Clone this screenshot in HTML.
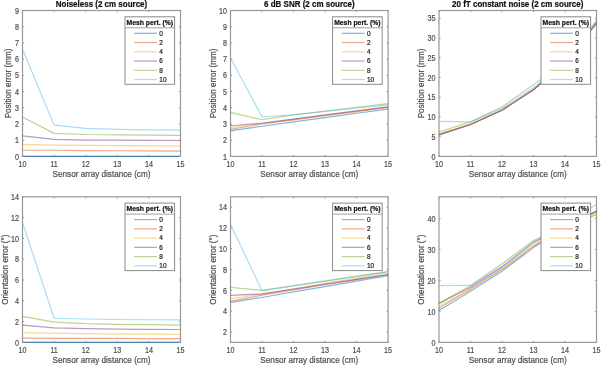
<!DOCTYPE html>
<html><head><meta charset="utf-8"><style>
html,body{margin:0;padding:0;background:#fff;width:602px;height:366px;overflow:hidden}
svg{display:block;will-change:transform}

text{font-family:"Liberation Sans", sans-serif;fill:#505050;stroke:#505050;stroke-width:.2}
.tl{font-size:8px}
.lb{font-size:8px}
.tt{font-size:8px;font-weight:bold;fill:#111;stroke:#111}
.lt{font-size:6.8px;font-weight:bold;fill:#111;stroke:#111}
.le{font-size:6.5px;fill:#222;stroke:#222}
.ln{fill:none;stroke-width:1.2;stroke-linejoin:round;stroke-opacity:.5}
.ax{fill:none;stroke:#989898;stroke-width:1.2}
.tk{stroke:#989898;stroke-width:1;fill:none}
.lg{fill:#fff;stroke:#8a8a8a;stroke-width:1}
.ls{stroke:#8a8a8a;stroke-width:0.8}
.ll{stroke-width:1.2;fill:none;stroke-opacity:.5}
</style></head><body>
<div id="w"><svg width="602" height="366" viewBox="0 0 602 366">
<rect x="22.5" y="10.5" width="158" height="145.9" class="ax"/>
<polyline points="22.5,156.4 54.1,156.4 85.7,156.4 117.3,156.4 148.9,156.4 180.5,156.4" stroke="#0072BD" class="ln"/>
<polyline points="22.5,150.24 54.1,150.24 85.7,150.56 117.3,150.73 148.9,150.89 180.5,151.05" stroke="#D95319" class="ln"/>
<polyline points="22.5,144.4 54.1,145.05 85.7,145.38 117.3,145.7 148.9,145.86 180.5,146.02" stroke="#EDB120" class="ln"/>
<polyline points="22.5,135.81 54.1,139.38 85.7,140.03 117.3,140.19 148.9,140.35 180.5,140.51" stroke="#7E2F8E" class="ln"/>
<polyline points="22.5,117.01 54.1,133.38 85.7,134.51 117.3,134.84 148.9,135.16 180.5,135.33" stroke="#77AC30" class="ln"/>
<polyline points="22.5,49.08 54.1,125.11 85.7,128.35 117.3,129.33 148.9,129.81 180.5,130.14" stroke="#4DBEEE" class="ln"/>
<path d="M22.5 156.4v-1.6M22.5 10.5v1.6" class="tk"/>
<text transform="translate(22.5 167.3) scale(0.9 1.12)" class="tl" text-anchor="middle">10</text>
<path d="M54.1 156.4v-1.6M54.1 10.5v1.6" class="tk"/>
<text transform="translate(54.1 167.3) scale(0.9 1.12)" class="tl" text-anchor="middle">11</text>
<path d="M85.7 156.4v-1.6M85.7 10.5v1.6" class="tk"/>
<text transform="translate(85.7 167.3) scale(0.9 1.12)" class="tl" text-anchor="middle">12</text>
<path d="M117.3 156.4v-1.6M117.3 10.5v1.6" class="tk"/>
<text transform="translate(117.3 167.3) scale(0.9 1.12)" class="tl" text-anchor="middle">13</text>
<path d="M148.9 156.4v-1.6M148.9 10.5v1.6" class="tk"/>
<text transform="translate(148.9 167.3) scale(0.9 1.12)" class="tl" text-anchor="middle">14</text>
<path d="M180.5 156.4v-1.6M180.5 10.5v1.6" class="tk"/>
<text transform="translate(180.5 167.3) scale(0.9 1.12)" class="tl" text-anchor="middle">15</text>
<path d="M22.5 156.4h1.6M180.5 156.4h-1.6" class="tk"/>
<text transform="translate(19.1 159.5) scale(0.9 1.12)" class="tl" text-anchor="end">0</text>
<path d="M22.5 140.19h1.6M180.5 140.19h-1.6" class="tk"/>
<text transform="translate(19.1 143.29) scale(0.9 1.12)" class="tl" text-anchor="end">1</text>
<path d="M22.5 123.98h1.6M180.5 123.98h-1.6" class="tk"/>
<text transform="translate(19.1 127.08) scale(0.9 1.12)" class="tl" text-anchor="end">2</text>
<path d="M22.5 107.77h1.6M180.5 107.77h-1.6" class="tk"/>
<text transform="translate(19.1 110.87) scale(0.9 1.12)" class="tl" text-anchor="end">3</text>
<path d="M22.5 91.56h1.6M180.5 91.56h-1.6" class="tk"/>
<text transform="translate(19.1 94.66) scale(0.9 1.12)" class="tl" text-anchor="end">4</text>
<path d="M22.5 75.34h1.6M180.5 75.34h-1.6" class="tk"/>
<text transform="translate(19.1 78.44) scale(0.9 1.12)" class="tl" text-anchor="end">5</text>
<path d="M22.5 59.13h1.6M180.5 59.13h-1.6" class="tk"/>
<text transform="translate(19.1 62.23) scale(0.9 1.12)" class="tl" text-anchor="end">6</text>
<path d="M22.5 42.92h1.6M180.5 42.92h-1.6" class="tk"/>
<text transform="translate(19.1 46.02) scale(0.9 1.12)" class="tl" text-anchor="end">7</text>
<path d="M22.5 26.71h1.6M180.5 26.71h-1.6" class="tk"/>
<text transform="translate(19.1 29.81) scale(0.9 1.12)" class="tl" text-anchor="end">8</text>
<path d="M22.5 10.5h1.6M180.5 10.5h-1.6" class="tk"/>
<text transform="translate(19.1 13.6) scale(0.9 1.12)" class="tl" text-anchor="end">9</text>
<text transform="translate(101.5 177.2) scale(1.02 1.15)" class="lb" text-anchor="middle">Sensor array distance (cm)</text>
<text transform="translate(11.2 83.45) rotate(-90) scale(1.02 1.15)" class="lb" text-anchor="middle">Position error (mm)</text>
<text transform="translate(101.5 7.1) scale(1 1.1)" class="tt" text-anchor="middle">Noiseless (2 cm source)</text>
<rect x="125" y="16.8" width="49.6" height="67.5" class="lg"/>
<text transform="translate(149.8 25.1)" class="lt" text-anchor="middle">Mesh pert. (%)</text>
<path d="M125 27.8h49.6" class="ls"/>
<path d="M134.2 33.3h22.8" stroke="#0072BD" class="ll"/>
<text transform="translate(159.3 35.6) scale(1 1.06)" class="le">0</text>
<path d="M134.2 42.55h22.8" stroke="#D95319" class="ll"/>
<text transform="translate(159.3 44.85) scale(1 1.06)" class="le">2</text>
<path d="M134.2 51.8h22.8" stroke="#EDB120" class="ll"/>
<text transform="translate(159.3 54.1) scale(1 1.06)" class="le">4</text>
<path d="M134.2 61.05h22.8" stroke="#7E2F8E" class="ll"/>
<text transform="translate(159.3 63.35) scale(1 1.06)" class="le">6</text>
<path d="M134.2 70.3h22.8" stroke="#77AC30" class="ll"/>
<text transform="translate(159.3 72.6) scale(1 1.06)" class="le">8</text>
<path d="M134.2 79.55h22.8" stroke="#4DBEEE" class="ll"/>
<text transform="translate(159.3 81.85) scale(1 1.06)" class="le">10</text>
<rect x="230.5" y="10.5" width="157.6" height="145.9" class="ax"/>
<polyline points="230.5,130.79 262.02,126.25 293.54,121.87 325.06,117.66 356.58,113.28 388.1,109.06" stroke="#0072BD" class="ln"/>
<polyline points="230.5,129.33 262.02,123.98 293.54,119.93 325.06,115.71 356.58,111.66 388.1,107.44" stroke="#D95319" class="ln"/>
<polyline points="230.5,127.54 262.02,123.49 293.54,119.44 325.06,115.22 356.58,111.17 388.1,107.12" stroke="#EDB120" class="ln"/>
<polyline points="230.5,125.76 262.02,123.17 293.54,119.11 325.06,114.9 356.58,110.85 388.1,106.79" stroke="#7E2F8E" class="ln"/>
<polyline points="230.5,112.31 262.02,119.76 293.54,114.9 325.06,111.17 356.58,107.44 388.1,103.55" stroke="#77AC30" class="ln"/>
<polyline points="230.5,58 262.02,116.84 293.54,114.74 325.06,111.5 356.58,108.25 388.1,104.85" stroke="#4DBEEE" class="ln"/>
<path d="M230.5 156.4v-1.6M230.5 10.5v1.6" class="tk"/>
<text transform="translate(230.5 167.3) scale(0.9 1.12)" class="tl" text-anchor="middle">10</text>
<path d="M262.02 156.4v-1.6M262.02 10.5v1.6" class="tk"/>
<text transform="translate(262.02 167.3) scale(0.9 1.12)" class="tl" text-anchor="middle">11</text>
<path d="M293.54 156.4v-1.6M293.54 10.5v1.6" class="tk"/>
<text transform="translate(293.54 167.3) scale(0.9 1.12)" class="tl" text-anchor="middle">12</text>
<path d="M325.06 156.4v-1.6M325.06 10.5v1.6" class="tk"/>
<text transform="translate(325.06 167.3) scale(0.9 1.12)" class="tl" text-anchor="middle">13</text>
<path d="M356.58 156.4v-1.6M356.58 10.5v1.6" class="tk"/>
<text transform="translate(356.58 167.3) scale(0.9 1.12)" class="tl" text-anchor="middle">14</text>
<path d="M388.1 156.4v-1.6M388.1 10.5v1.6" class="tk"/>
<text transform="translate(388.1 167.3) scale(0.9 1.12)" class="tl" text-anchor="middle">15</text>
<path d="M230.5 156.4h1.6M388.1 156.4h-1.6" class="tk"/>
<text transform="translate(227.1 159.5) scale(0.9 1.12)" class="tl" text-anchor="end">1</text>
<path d="M230.5 140.19h1.6M388.1 140.19h-1.6" class="tk"/>
<text transform="translate(227.1 143.29) scale(0.9 1.12)" class="tl" text-anchor="end">2</text>
<path d="M230.5 123.98h1.6M388.1 123.98h-1.6" class="tk"/>
<text transform="translate(227.1 127.08) scale(0.9 1.12)" class="tl" text-anchor="end">3</text>
<path d="M230.5 107.77h1.6M388.1 107.77h-1.6" class="tk"/>
<text transform="translate(227.1 110.87) scale(0.9 1.12)" class="tl" text-anchor="end">4</text>
<path d="M230.5 91.56h1.6M388.1 91.56h-1.6" class="tk"/>
<text transform="translate(227.1 94.66) scale(0.9 1.12)" class="tl" text-anchor="end">5</text>
<path d="M230.5 75.34h1.6M388.1 75.34h-1.6" class="tk"/>
<text transform="translate(227.1 78.44) scale(0.9 1.12)" class="tl" text-anchor="end">6</text>
<path d="M230.5 59.13h1.6M388.1 59.13h-1.6" class="tk"/>
<text transform="translate(227.1 62.23) scale(0.9 1.12)" class="tl" text-anchor="end">7</text>
<path d="M230.5 42.92h1.6M388.1 42.92h-1.6" class="tk"/>
<text transform="translate(227.1 46.02) scale(0.9 1.12)" class="tl" text-anchor="end">8</text>
<path d="M230.5 26.71h1.6M388.1 26.71h-1.6" class="tk"/>
<text transform="translate(227.1 29.81) scale(0.9 1.12)" class="tl" text-anchor="end">9</text>
<path d="M230.5 10.5h1.6M388.1 10.5h-1.6" class="tk"/>
<text transform="translate(227.1 13.6) scale(0.9 1.12)" class="tl" text-anchor="end">10</text>
<text transform="translate(309.3 177.2) scale(1.02 1.15)" class="lb" text-anchor="middle">Sensor array distance (cm)</text>
<text transform="translate(215.7 83.45) rotate(-90) scale(1.02 1.15)" class="lb" text-anchor="middle">Position error (mm)</text>
<text transform="translate(309.3 7.1) scale(1 1.1)" class="tt" text-anchor="middle">6 dB SNR (2 cm source)</text>
<rect x="332.6" y="16.8" width="49.6" height="67.5" class="lg"/>
<text transform="translate(357.4 25.1)" class="lt" text-anchor="middle">Mesh pert. (%)</text>
<path d="M332.6 27.8h49.6" class="ls"/>
<path d="M341.8 33.3h22.8" stroke="#0072BD" class="ll"/>
<text transform="translate(366.9 35.6) scale(1 1.06)" class="le">0</text>
<path d="M341.8 42.55h22.8" stroke="#D95319" class="ll"/>
<text transform="translate(366.9 44.85) scale(1 1.06)" class="le">2</text>
<path d="M341.8 51.8h22.8" stroke="#EDB120" class="ll"/>
<text transform="translate(366.9 54.1) scale(1 1.06)" class="le">4</text>
<path d="M341.8 61.05h22.8" stroke="#7E2F8E" class="ll"/>
<text transform="translate(366.9 63.35) scale(1 1.06)" class="le">6</text>
<path d="M341.8 70.3h22.8" stroke="#77AC30" class="ll"/>
<text transform="translate(366.9 72.6) scale(1 1.06)" class="le">8</text>
<path d="M341.8 79.55h22.8" stroke="#4DBEEE" class="ll"/>
<text transform="translate(366.9 81.85) scale(1 1.06)" class="le">10</text>
<rect x="439" y="10.5" width="157.5" height="145.9" class="ax"/>
<polyline points="439,135.3 470.5,124.46 502,110.26 533.5,89.76 565,62.55 596.5,23.12" stroke="#0072BD" class="ln"/>
<polyline points="439,134.71 470.5,124.46 502,110.26 533.5,89.76 565,62.55 596.5,23.51" stroke="#D95319" class="ln"/>
<polyline points="439,133.92 470.5,124.07 502,109.87 533.5,89.36 565,62.16 596.5,22.72" stroke="#EDB120" class="ln"/>
<polyline points="439,134.32 470.5,124.46 502,110.26 533.5,89.76 565,62.55 596.5,22.72" stroke="#7E2F8E" class="ln"/>
<polyline points="439,131.95 470.5,121.9 502,107.11 533.5,84.63 565,62.55 596.5,21.94" stroke="#77AC30" class="ln"/>
<polyline points="439,121.31 470.5,121.9 502,108.69 533.5,87.79 565,61.76 596.5,20.36" stroke="#4DBEEE" class="ln"/>
<path d="M439 156.4v-1.6M439 10.5v1.6" class="tk"/>
<text transform="translate(439 167.3) scale(0.9 1.12)" class="tl" text-anchor="middle">10</text>
<path d="M470.5 156.4v-1.6M470.5 10.5v1.6" class="tk"/>
<text transform="translate(470.5 167.3) scale(0.9 1.12)" class="tl" text-anchor="middle">11</text>
<path d="M502 156.4v-1.6M502 10.5v1.6" class="tk"/>
<text transform="translate(502 167.3) scale(0.9 1.12)" class="tl" text-anchor="middle">12</text>
<path d="M533.5 156.4v-1.6M533.5 10.5v1.6" class="tk"/>
<text transform="translate(533.5 167.3) scale(0.9 1.12)" class="tl" text-anchor="middle">13</text>
<path d="M565 156.4v-1.6M565 10.5v1.6" class="tk"/>
<text transform="translate(565 167.3) scale(0.9 1.12)" class="tl" text-anchor="middle">14</text>
<path d="M596.5 156.4v-1.6M596.5 10.5v1.6" class="tk"/>
<text transform="translate(596.5 167.3) scale(0.9 1.12)" class="tl" text-anchor="middle">15</text>
<path d="M439 156.4h1.6M596.5 156.4h-1.6" class="tk"/>
<text transform="translate(435.6 159.5) scale(0.9 1.12)" class="tl" text-anchor="end">0</text>
<path d="M439 136.68h1.6M596.5 136.68h-1.6" class="tk"/>
<text transform="translate(435.6 139.78) scale(0.9 1.12)" class="tl" text-anchor="end">5</text>
<path d="M439 116.97h1.6M596.5 116.97h-1.6" class="tk"/>
<text transform="translate(435.6 120.07) scale(0.9 1.12)" class="tl" text-anchor="end">10</text>
<path d="M439 97.25h1.6M596.5 97.25h-1.6" class="tk"/>
<text transform="translate(435.6 100.35) scale(0.9 1.12)" class="tl" text-anchor="end">15</text>
<path d="M439 77.54h1.6M596.5 77.54h-1.6" class="tk"/>
<text transform="translate(435.6 80.64) scale(0.9 1.12)" class="tl" text-anchor="end">20</text>
<path d="M439 57.82h1.6M596.5 57.82h-1.6" class="tk"/>
<text transform="translate(435.6 60.92) scale(0.9 1.12)" class="tl" text-anchor="end">25</text>
<path d="M439 38.1h1.6M596.5 38.1h-1.6" class="tk"/>
<text transform="translate(435.6 41.2) scale(0.9 1.12)" class="tl" text-anchor="end">30</text>
<path d="M439 18.39h1.6M596.5 18.39h-1.6" class="tk"/>
<text transform="translate(435.6 21.49) scale(0.9 1.12)" class="tl" text-anchor="end">35</text>
<text transform="translate(517.75 177.2) scale(1.02 1.15)" class="lb" text-anchor="middle">Sensor array distance (cm)</text>
<text transform="translate(424.2 83.45) rotate(-90) scale(1.02 1.15)" class="lb" text-anchor="middle">Position error (mm)</text>
<text transform="translate(517.75 7.1) scale(1 1.1)" class="tt" text-anchor="middle">20 fT constant noise (2 cm source)</text>
<rect x="541" y="16.8" width="49.6" height="67.5" class="lg"/>
<text transform="translate(565.8 25.1)" class="lt" text-anchor="middle">Mesh pert. (%)</text>
<path d="M541 27.8h49.6" class="ls"/>
<path d="M550.2 33.3h22.8" stroke="#0072BD" class="ll"/>
<text transform="translate(575.3 35.6) scale(1 1.06)" class="le">0</text>
<path d="M550.2 42.55h22.8" stroke="#D95319" class="ll"/>
<text transform="translate(575.3 44.85) scale(1 1.06)" class="le">2</text>
<path d="M550.2 51.8h22.8" stroke="#EDB120" class="ll"/>
<text transform="translate(575.3 54.1) scale(1 1.06)" class="le">4</text>
<path d="M550.2 61.05h22.8" stroke="#7E2F8E" class="ll"/>
<text transform="translate(575.3 63.35) scale(1 1.06)" class="le">6</text>
<path d="M550.2 70.3h22.8" stroke="#77AC30" class="ll"/>
<text transform="translate(575.3 72.6) scale(1 1.06)" class="le">8</text>
<path d="M550.2 79.55h22.8" stroke="#4DBEEE" class="ll"/>
<text transform="translate(575.3 81.85) scale(1 1.06)" class="le">10</text>
<rect x="22.5" y="196.8" width="158" height="145.6" class="ax"/>
<polyline points="22.5,342.4 54.1,342.4 85.7,342.4 117.3,342.4 148.9,342.4 180.5,342.4" stroke="#0072BD" class="ln"/>
<polyline points="22.5,338.14 54.1,338.34 85.7,338.45 117.3,338.45 148.9,338.55 180.5,338.55" stroke="#D95319" class="ln"/>
<polyline points="22.5,332.73 54.1,333.14 85.7,333.66 117.3,334.08 148.9,334.18 180.5,334.29" stroke="#EDB120" class="ln"/>
<polyline points="22.5,325.03 54.1,327.94 85.7,328.67 117.3,329.09 148.9,329.4 180.5,329.5" stroke="#7E2F8E" class="ln"/>
<polyline points="22.5,316.3 54.1,322.12 85.7,323.58 117.3,324.3 148.9,324.72 180.5,325.03" stroke="#77AC30" class="ln"/>
<polyline points="22.5,222.8 54.1,318.27 85.7,319 117.3,319.52 148.9,319.73 180.5,319.94" stroke="#4DBEEE" class="ln"/>
<path d="M22.5 342.4v-1.6M22.5 196.8v1.6" class="tk"/>
<text transform="translate(22.5 353.3) scale(0.9 1.12)" class="tl" text-anchor="middle">10</text>
<path d="M54.1 342.4v-1.6M54.1 196.8v1.6" class="tk"/>
<text transform="translate(54.1 353.3) scale(0.9 1.12)" class="tl" text-anchor="middle">11</text>
<path d="M85.7 342.4v-1.6M85.7 196.8v1.6" class="tk"/>
<text transform="translate(85.7 353.3) scale(0.9 1.12)" class="tl" text-anchor="middle">12</text>
<path d="M117.3 342.4v-1.6M117.3 196.8v1.6" class="tk"/>
<text transform="translate(117.3 353.3) scale(0.9 1.12)" class="tl" text-anchor="middle">13</text>
<path d="M148.9 342.4v-1.6M148.9 196.8v1.6" class="tk"/>
<text transform="translate(148.9 353.3) scale(0.9 1.12)" class="tl" text-anchor="middle">14</text>
<path d="M180.5 342.4v-1.6M180.5 196.8v1.6" class="tk"/>
<text transform="translate(180.5 353.3) scale(0.9 1.12)" class="tl" text-anchor="middle">15</text>
<path d="M22.5 342.4h1.6M180.5 342.4h-1.6" class="tk"/>
<text transform="translate(19.1 345.5) scale(0.9 1.12)" class="tl" text-anchor="end">0</text>
<path d="M22.5 321.6h1.6M180.5 321.6h-1.6" class="tk"/>
<text transform="translate(19.1 324.7) scale(0.9 1.12)" class="tl" text-anchor="end">2</text>
<path d="M22.5 300.8h1.6M180.5 300.8h-1.6" class="tk"/>
<text transform="translate(19.1 303.9) scale(0.9 1.12)" class="tl" text-anchor="end">4</text>
<path d="M22.5 280h1.6M180.5 280h-1.6" class="tk"/>
<text transform="translate(19.1 283.1) scale(0.9 1.12)" class="tl" text-anchor="end">6</text>
<path d="M22.5 259.2h1.6M180.5 259.2h-1.6" class="tk"/>
<text transform="translate(19.1 262.3) scale(0.9 1.12)" class="tl" text-anchor="end">8</text>
<path d="M22.5 238.4h1.6M180.5 238.4h-1.6" class="tk"/>
<text transform="translate(19.1 241.5) scale(0.9 1.12)" class="tl" text-anchor="end">10</text>
<path d="M22.5 217.6h1.6M180.5 217.6h-1.6" class="tk"/>
<text transform="translate(19.1 220.7) scale(0.9 1.12)" class="tl" text-anchor="end">12</text>
<path d="M22.5 196.8h1.6M180.5 196.8h-1.6" class="tk"/>
<text transform="translate(19.1 199.9) scale(0.9 1.12)" class="tl" text-anchor="end">14</text>
<text transform="translate(101.5 363.2) scale(1.02 1.15)" class="lb" text-anchor="middle">Sensor array distance (cm)</text>
<text transform="translate(7.7 269.6) rotate(-90) scale(1.02 1.15)" class="lb" text-anchor="middle">Orientation error (°)</text>
<rect x="125" y="203.1" width="49.6" height="67.5" class="lg"/>
<text transform="translate(149.8 211.4)" class="lt" text-anchor="middle">Mesh pert. (%)</text>
<path d="M125 214.1h49.6" class="ls"/>
<path d="M134.2 219.6h22.8" stroke="#0072BD" class="ll"/>
<text transform="translate(159.3 221.9) scale(1 1.06)" class="le">0</text>
<path d="M134.2 228.85h22.8" stroke="#D95319" class="ll"/>
<text transform="translate(159.3 231.15) scale(1 1.06)" class="le">2</text>
<path d="M134.2 238.1h22.8" stroke="#EDB120" class="ll"/>
<text transform="translate(159.3 240.4) scale(1 1.06)" class="le">4</text>
<path d="M134.2 247.35h22.8" stroke="#7E2F8E" class="ll"/>
<text transform="translate(159.3 249.65) scale(1 1.06)" class="le">6</text>
<path d="M134.2 256.6h22.8" stroke="#77AC30" class="ll"/>
<text transform="translate(159.3 258.9) scale(1 1.06)" class="le">8</text>
<path d="M134.2 265.85h22.8" stroke="#4DBEEE" class="ll"/>
<text transform="translate(159.3 268.15) scale(1 1.06)" class="le">10</text>
<rect x="230.5" y="196.8" width="157.6" height="145.6" class="ax"/>
<polyline points="230.5,302.36 262.02,297.47 293.54,291.96 325.06,286.55 356.58,281.04 388.1,275.63" stroke="#0072BD" class="ln"/>
<polyline points="230.5,301.32 262.02,295.18 293.54,289.98 325.06,284.78 356.58,279.69 388.1,274.49" stroke="#D95319" class="ln"/>
<polyline points="230.5,298.93 262.02,294.04 293.54,288.74 325.06,283.43 356.58,278.13 388.1,272.72" stroke="#EDB120" class="ln"/>
<polyline points="230.5,295.39 262.02,293.94 293.54,289.05 325.06,284.16 356.58,279.38 388.1,274.49" stroke="#7E2F8E" class="ln"/>
<polyline points="230.5,287.38 262.02,290.4 293.54,285.62 325.06,280.94 356.58,276.15 388.1,271.47" stroke="#77AC30" class="ln"/>
<polyline points="230.5,224.15 262.02,290.82 293.54,286.03 325.06,281.35 356.58,276.57 388.1,271.89" stroke="#4DBEEE" class="ln"/>
<path d="M230.5 342.4v-1.6M230.5 196.8v1.6" class="tk"/>
<text transform="translate(230.5 353.3) scale(0.9 1.12)" class="tl" text-anchor="middle">10</text>
<path d="M262.02 342.4v-1.6M262.02 196.8v1.6" class="tk"/>
<text transform="translate(262.02 353.3) scale(0.9 1.12)" class="tl" text-anchor="middle">11</text>
<path d="M293.54 342.4v-1.6M293.54 196.8v1.6" class="tk"/>
<text transform="translate(293.54 353.3) scale(0.9 1.12)" class="tl" text-anchor="middle">12</text>
<path d="M325.06 342.4v-1.6M325.06 196.8v1.6" class="tk"/>
<text transform="translate(325.06 353.3) scale(0.9 1.12)" class="tl" text-anchor="middle">13</text>
<path d="M356.58 342.4v-1.6M356.58 196.8v1.6" class="tk"/>
<text transform="translate(356.58 353.3) scale(0.9 1.12)" class="tl" text-anchor="middle">14</text>
<path d="M388.1 342.4v-1.6M388.1 196.8v1.6" class="tk"/>
<text transform="translate(388.1 353.3) scale(0.9 1.12)" class="tl" text-anchor="middle">15</text>
<path d="M230.5 332h1.6M388.1 332h-1.6" class="tk"/>
<text transform="translate(227.1 335.1) scale(0.9 1.12)" class="tl" text-anchor="end">2</text>
<path d="M230.5 311.2h1.6M388.1 311.2h-1.6" class="tk"/>
<text transform="translate(227.1 314.3) scale(0.9 1.12)" class="tl" text-anchor="end">4</text>
<path d="M230.5 290.4h1.6M388.1 290.4h-1.6" class="tk"/>
<text transform="translate(227.1 293.5) scale(0.9 1.12)" class="tl" text-anchor="end">6</text>
<path d="M230.5 269.6h1.6M388.1 269.6h-1.6" class="tk"/>
<text transform="translate(227.1 272.7) scale(0.9 1.12)" class="tl" text-anchor="end">8</text>
<path d="M230.5 248.8h1.6M388.1 248.8h-1.6" class="tk"/>
<text transform="translate(227.1 251.9) scale(0.9 1.12)" class="tl" text-anchor="end">10</text>
<path d="M230.5 228h1.6M388.1 228h-1.6" class="tk"/>
<text transform="translate(227.1 231.1) scale(0.9 1.12)" class="tl" text-anchor="end">12</text>
<path d="M230.5 207.2h1.6M388.1 207.2h-1.6" class="tk"/>
<text transform="translate(227.1 210.3) scale(0.9 1.12)" class="tl" text-anchor="end">14</text>
<text transform="translate(309.3 363.2) scale(1.02 1.15)" class="lb" text-anchor="middle">Sensor array distance (cm)</text>
<text transform="translate(215.7 269.6) rotate(-90) scale(1.02 1.15)" class="lb" text-anchor="middle">Orientation error (°)</text>
<rect x="332.6" y="203.1" width="49.6" height="67.5" class="lg"/>
<text transform="translate(357.4 211.4)" class="lt" text-anchor="middle">Mesh pert. (%)</text>
<path d="M332.6 214.1h49.6" class="ls"/>
<path d="M341.8 219.6h22.8" stroke="#0072BD" class="ll"/>
<text transform="translate(366.9 221.9) scale(1 1.06)" class="le">0</text>
<path d="M341.8 228.85h22.8" stroke="#D95319" class="ll"/>
<text transform="translate(366.9 231.15) scale(1 1.06)" class="le">2</text>
<path d="M341.8 238.1h22.8" stroke="#EDB120" class="ll"/>
<text transform="translate(366.9 240.4) scale(1 1.06)" class="le">4</text>
<path d="M341.8 247.35h22.8" stroke="#7E2F8E" class="ll"/>
<text transform="translate(366.9 249.65) scale(1 1.06)" class="le">6</text>
<path d="M341.8 256.6h22.8" stroke="#77AC30" class="ll"/>
<text transform="translate(366.9 258.9) scale(1 1.06)" class="le">8</text>
<path d="M341.8 265.85h22.8" stroke="#4DBEEE" class="ll"/>
<text transform="translate(366.9 268.15) scale(1 1.06)" class="le">10</text>
<rect x="439" y="196.8" width="157.5" height="145.6" class="ax"/>
<polyline points="439,310.49 470.5,291.29 502,271.15 533.5,247.61 565,227.78 596.5,211.05" stroke="#0072BD" class="ln"/>
<polyline points="439,308.32 470.5,288.81 502,269.6 533.5,246.37 565,227.78 596.5,212.29" stroke="#D95319" class="ln"/>
<polyline points="439,306.15 470.5,289.74 502,268.67 533.5,244.82 565,227.78 596.5,214.46" stroke="#EDB120" class="ln"/>
<polyline points="439,303.37 470.5,287.26 502,267.12 533.5,242.65 565,226.23 596.5,211.05" stroke="#7E2F8E" class="ln"/>
<polyline points="439,303.37 470.5,285.71 502,263.71 533.5,240.48 565,226.85 596.5,214.46" stroke="#77AC30" class="ln"/>
<polyline points="439,285.71 470.5,285.4 502,266.19 533.5,241.72 565,223.13 596.5,204.54" stroke="#4DBEEE" class="ln"/>
<path d="M439 342.4v-1.6M439 196.8v1.6" class="tk"/>
<text transform="translate(439 353.3) scale(0.9 1.12)" class="tl" text-anchor="middle">10</text>
<path d="M470.5 342.4v-1.6M470.5 196.8v1.6" class="tk"/>
<text transform="translate(470.5 353.3) scale(0.9 1.12)" class="tl" text-anchor="middle">11</text>
<path d="M502 342.4v-1.6M502 196.8v1.6" class="tk"/>
<text transform="translate(502 353.3) scale(0.9 1.12)" class="tl" text-anchor="middle">12</text>
<path d="M533.5 342.4v-1.6M533.5 196.8v1.6" class="tk"/>
<text transform="translate(533.5 353.3) scale(0.9 1.12)" class="tl" text-anchor="middle">13</text>
<path d="M565 342.4v-1.6M565 196.8v1.6" class="tk"/>
<text transform="translate(565 353.3) scale(0.9 1.12)" class="tl" text-anchor="middle">14</text>
<path d="M596.5 342.4v-1.6M596.5 196.8v1.6" class="tk"/>
<text transform="translate(596.5 353.3) scale(0.9 1.12)" class="tl" text-anchor="middle">15</text>
<path d="M439 342.4h1.6M596.5 342.4h-1.6" class="tk"/>
<text transform="translate(435.6 345.5) scale(0.9 1.12)" class="tl" text-anchor="end">0</text>
<path d="M439 311.42h1.6M596.5 311.42h-1.6" class="tk"/>
<text transform="translate(435.6 314.52) scale(0.9 1.12)" class="tl" text-anchor="end">10</text>
<path d="M439 280.44h1.6M596.5 280.44h-1.6" class="tk"/>
<text transform="translate(435.6 283.54) scale(0.9 1.12)" class="tl" text-anchor="end">20</text>
<path d="M439 249.46h1.6M596.5 249.46h-1.6" class="tk"/>
<text transform="translate(435.6 252.56) scale(0.9 1.12)" class="tl" text-anchor="end">30</text>
<path d="M439 218.49h1.6M596.5 218.49h-1.6" class="tk"/>
<text transform="translate(435.6 221.59) scale(0.9 1.12)" class="tl" text-anchor="end">40</text>
<text transform="translate(517.75 363.2) scale(1.02 1.15)" class="lb" text-anchor="middle">Sensor array distance (cm)</text>
<text transform="translate(424.2 269.6) rotate(-90) scale(1.02 1.15)" class="lb" text-anchor="middle">Orientation error (°)</text>
<rect x="541" y="203.1" width="49.6" height="67.5" class="lg"/>
<text transform="translate(565.8 211.4)" class="lt" text-anchor="middle">Mesh pert. (%)</text>
<path d="M541 214.1h49.6" class="ls"/>
<path d="M550.2 219.6h22.8" stroke="#0072BD" class="ll"/>
<text transform="translate(575.3 221.9) scale(1 1.06)" class="le">0</text>
<path d="M550.2 228.85h22.8" stroke="#D95319" class="ll"/>
<text transform="translate(575.3 231.15) scale(1 1.06)" class="le">2</text>
<path d="M550.2 238.1h22.8" stroke="#EDB120" class="ll"/>
<text transform="translate(575.3 240.4) scale(1 1.06)" class="le">4</text>
<path d="M550.2 247.35h22.8" stroke="#7E2F8E" class="ll"/>
<text transform="translate(575.3 249.65) scale(1 1.06)" class="le">6</text>
<path d="M550.2 256.6h22.8" stroke="#77AC30" class="ll"/>
<text transform="translate(575.3 258.9) scale(1 1.06)" class="le">8</text>
<path d="M550.2 265.85h22.8" stroke="#4DBEEE" class="ll"/>
<text transform="translate(575.3 268.15) scale(1 1.06)" class="le">10</text>
</svg></div>
</body></html>
